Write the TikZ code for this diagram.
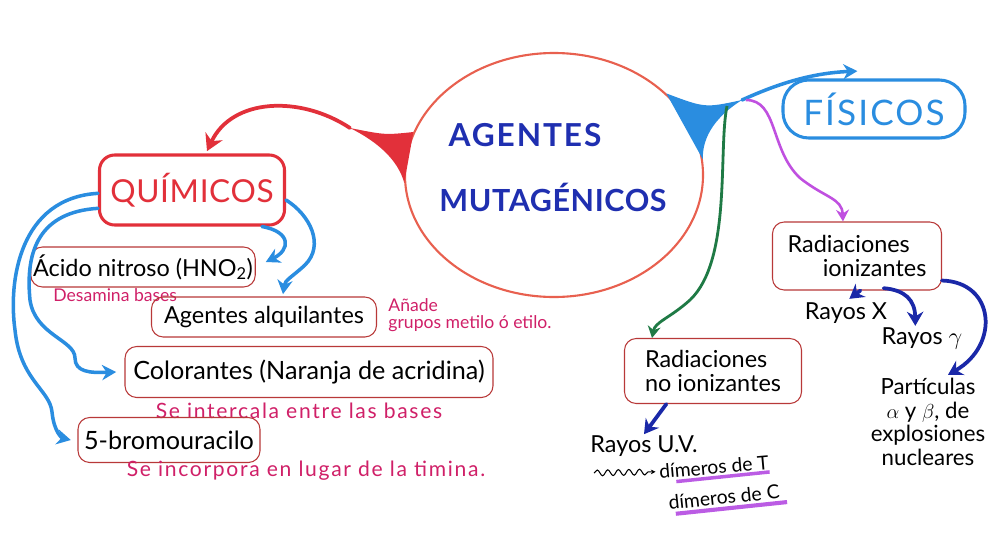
\documentclass[tikz,border=0pt]{standalone}
\usepackage{fontspec}
\setmainfont{Lato}
\newfontfamily\spaced[LetterSpace=8]{Lato}
\newfontfamily\capsfont[LetterSpace=6]{Lato}
\newfontfamily\capsfontb[LetterSpace=2]{Lato}
\usetikzlibrary{arrows.meta,shapes.geometric,decorations.pathmorphing}
\definecolor{ellred}{HTML}{E8604F}
\definecolor{qred}{HTML}{E2303A}
\definecolor{lblue}{HTML}{2A8DE0}
\definecolor{dblue}{HTML}{1F2FB0}
\definecolor{dbarrow}{HTML}{1A28A8}
\definecolor{boxred}{HTML}{B83838}
\definecolor{magtext}{HTML}{D02068}
\definecolor{hilite}{HTML}{B040E0}
\definecolor{gline}{HTML}{1F7A45}
\definecolor{pline}{HTML}{C050E0}
\begin{document}
\begin{tikzpicture}[x=0.03cm,y=-0.03cm,
  thinbox/.style={draw=boxred,line width=0.9pt,rounded corners=10pt,inner sep=2pt,
    font=\fontsize{20}{22}\selectfont},
  blk/.style={font=\fontsize{20}{22}\selectfont,text=black,inner sep=1pt},
  mag/.style={font=\spaced\fontsize{18}{18}\selectfont,text=magtext,inner sep=1pt},
  bigtext/.style={font=\capsfont\bfseries\fontsize{27}{30}\selectfont,text=dblue,inner sep=0pt},
  barr/.style={draw=lblue,line width=3pt,line cap=round,-{Stealth[length=12pt,width=13pt]}},
  dbarr/.style={draw=dbarrow,line width=3.2pt,line cap=round,-{Stealth[length=12pt,width=14pt]}},
]
\useasboundingbox[fill=white] (0,0) rectangle (1004,555);

% central ellipse
\node[ellipse,draw=ellred,line width=1.8pt,minimum width=8.94cm,minimum height=7.32cm] (cen) at (554,175) {};
\node[bigtext] (ag1) at (525,135) {AGENTES};
\node[bigtext,font=\capsfontb\bfseries\fontsize{26}{30}\selectfont] (ag2) at (553,197) {MUTAGÉNICOS};

% category boxes
\node[draw=qred,line width=2.6pt,rounded corners=13pt,minimum width=5.55cm,minimum height=2.1cm,
  text=qred,font=\capsfontb\fontsize{27}{30}\selectfont] (quim) at (192,190) {QUÍMICOS};
\node[draw=lblue,line width=2.6pt,rounded corners=22pt,minimum width=5.46cm,minimum height=1.74cm,
  text=lblue,font=\capsfont\fontsize{30}{32}\selectfont] (fis) at (874,109) {FÍSICOS};

% fans
\coordinate (rv) at (350,128);
\fill[qred] (cen.163) .. controls (385,135) .. (rv) .. controls (378,142) and (398,160) .. (cen.183) -- cycle;
\coordinate (bv) at (742,100);
\fill[lblue] (cen.36) .. controls (705,108) .. (bv) .. controls (718,115) and (702,135) .. (cen.6) -- cycle;
\coordinate (gv) at (727,106);
\coordinate (mv) at (746,100);

% left items
\node[thinbox,minimum width=6.69cm,minimum height=1.2cm] (acido) at (143,267) {Ácido nitroso (HNO\textsubscript{2})};
\node[mag,anchor=west,font=\fontsize{15}{15}\selectfont] (desa) at (52,295) {Desamina bases};
\node[thinbox,minimum width=6.75cm,minimum height=1.2cm] (alq) at (264,317) {Agentes alquilantes};
\node[mag,anchor=west,align=left,font=\fontsize{15}{15}\selectfont] (anade) at (387,315) {Añade\\grupos metilo ó etilo.};
\node[thinbox,minimum width=11.04cm,minimum height=1.53cm,font=\fontsize{21.5}{22}\selectfont] (color) at (309,372) {Colorantes (Naranja de acridina)};
\node[mag] (inter) at (299,411) {Se intercala entre las bases};
\node[thinbox,minimum width=5.46cm,minimum height=1.35cm,font=\fontsize{21.5}{22}\selectfont] (bromo) at (169,440) {5-bromouracilo};
\node[mag] (incor) at (306,471) {Se incorpora en lugar de la timina.};

% right items
\node[thinbox,minimum width=5.07cm,minimum height=2.04cm,align=left,font=\fontsize{20}{21}\selectfont] (radi) at (857,256) {Radiaciones\\\hspace*{1.5em}ionizantes};
\node[blk] (rayx) at (846,313) {Rayos X};
\node[blk] (rayg) at (922,338) {Rayos $\gamma$};
\node[blk,align=center,font=\fontsize{19}{20}\selectfont] (part) at (928,422) {Partículas\\$\alpha$ y $\beta$, de\\explosiones\\nucleares};
\node[thinbox,minimum width=5.31cm,minimum height=1.95cm,align=left,font=\fontsize{20}{21}\selectfont] (radni) at (713,371) {Radiaciones\\no ionizantes};
\node[blk] (uv) at (644,446) {Rayos U.V.};
\node[blk,inner sep=0pt,rotate=5,font=\fontsize{16.5}{18}\selectfont] (dimT) at (714,467) {dímeros de T};
\node[blk,inner sep=0pt,rotate=6,font=\fontsize{16.5}{18}\selectfont] (dimC) at (724,497) {dímeros de C};
\draw[hilite,line width=3pt,opacity=0.85] ([xshift=0.5cm,yshift=-2pt]dimT.south west) -- ([yshift=-2pt]dimT.south east);
\draw[hilite,line width=3.5pt,opacity=0.85] ([xshift=0.2cm,yshift=-3pt]dimC.south west) -- ([xshift=0.2cm,yshift=-3pt]dimC.south east);
\coordinate (w1) at (594,473);
\draw[black,line width=0.9pt,-{Stealth[length=4pt,width=4pt]},decorate,
  decoration={snake,amplitude=2.5pt,segment length=9pt,post length=4pt}] (w1) -- ([xshift=-3pt]dimT.west);

% connectors
\draw[draw=qred,line width=3.2pt,line cap=round,-{Stealth[length=14pt,width=16pt]}]
  (rv) .. controls (300,95) and (232,98) .. ([xshift=0.45cm,yshift=2pt]quim.north);
\draw[barr] (bv) .. controls (775,85) and (810,73) .. ([xshift=-0.5cm,yshift=0.22cm]fis.north);
\draw[draw=gline,line width=2.4pt,-{Stealth[length=10pt,width=11pt]}]
  (gv) .. controls (718,150) and (732,260) .. (690,300) .. controls (670,318) and (655,322) .. ([xshift=-1.83cm]radni.north);
\draw[draw=pline,line width=2.2pt,-{Stealth[length=10pt,width=11pt]}]
  (mv) .. controls (778,100) and (770,150) .. (800,178) .. controls (825,198) and (842,198) .. ([xshift=-0.42cm]radi.north);

\draw[barr] ([xshift=2.1cm]quim.south) .. controls (292,232) and (290,250) .. ([xshift=0.3cm,yshift=0.15cm]acido.east);
\draw[barr] ([yshift=-0.3cm]quim.east) .. controls (310,215) and (325,245) .. (305,265) .. controls (292,277) and (285,280) .. ([xshift=0.57cm,yshift=2pt]alq.north);
\draw[barr] ([yshift=-0.55cm]quim.west) .. controls (40,212) and (25,250) .. (30,300) .. controls (35,335) and (75,340) .. (75,358) .. controls (75,372) and (90,373) .. ([xshift=-0.25cm]color.west);
\draw[barr] ([yshift=-0.1cm]quim.west) .. controls (20,198) and (8,280) .. (15,330) .. controls (20,380) and (50,390) .. (52,412) .. controls (54,432) and (62,438) .. ([xshift=-0.2cm]bromo.west);

\draw[dbarr] ([xshift=0.1cm]radi.south) -- ([xshift=0.1cm,yshift=2pt]rayx.north);
\draw[dbarr] ([xshift=0.8cm,yshift=2pt]radi.south) .. controls (905,290) and (915,300) .. ([xshift=-0.2cm]rayg.north);
\draw[dbarr] ([yshift=0.3cm]radi.south east) .. controls (995,282) and (1000,345) .. ([xshift=0.6cm,yshift=2pt]part.north);
\draw[dbarr] ([xshift=-1.4cm]radni.south) -- (uv.north);
\end{tikzpicture}
\end{document}
